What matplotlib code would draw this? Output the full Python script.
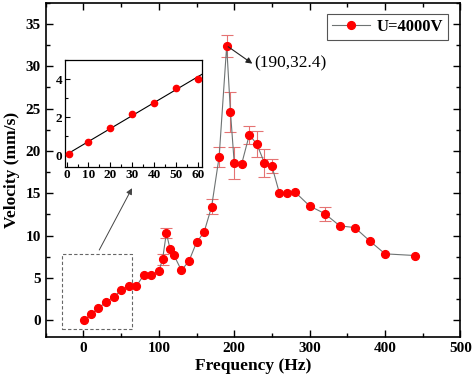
import numpy as np
import matplotlib
matplotlib.use('Agg')
import matplotlib.pyplot as plt
from matplotlib.patches import Rectangle
from matplotlib.ticker import MultipleLocator

plt.rcParams['font.family'] = 'Liberation Serif'
plt.rcParams['font.weight'] = 'bold'

### frequency sweep data, U = 4000 V
freq = [1, 10, 20, 30, 40, 50, 60, 70, 80, 90, 100, 105, 110, 115, 120, 130, 140, 150, 160, 170,
        180, 190, 195, 200, 210, 220, 230, 240, 250, 260, 270, 280, 300, 320, 340, 360, 380, 400, 440]
vel = [0.05, 0.7, 1.45, 2.15, 2.75, 3.55, 4.0, 4.0, 5.35, 5.3, 5.8, 7.2, 10.3, 8.4, 7.7, 5.9, 7.0, 9.2, 10.4, 13.4,
       19.3, 32.4, 24.6, 18.6, 18.5, 21.9, 20.8, 18.6, 18.2, 15.0, 15.0, 15.2, 13.5, 12.6, 11.15, 10.95, 9.35, 7.85, 7.65]
err = [0, 0, 0, 0, 0, 0, 0, 0, 0, 0, 0, 0.67, 0.63, 0, 0, 0, 0, 0, 0, 0.87,
       1.15, 1.3, 2.4, 1.9, 0, 1.05, 1.55, 1.65, 0.85, 0, 0, 0, 0, 0.83, 0, 0, 0, 0, 0]

### low-frequency part shown in the inset
n_low = 7
f_low = np.array(freq[:n_low])
v_low = np.array(vel[:n_low])

fig = plt.figure(figsize=(4.74, 3.78), dpi=100)
ax = fig.add_axes([0.0964, 0.1077, 0.875, 0.8853])

### only draw error bars that are visible outside the markers
fa, va, ea = np.array(freq), np.array(vel), np.array(err)
has_err = ea > 0
ax.errorbar(fa[has_err], va[has_err], yerr=ea[has_err], fmt='none', ecolor='#e57373', elinewidth=0.8,
            capsize=4, capthick=0.8, zorder=2)
ax.plot(freq, vel, '-', color='#6e7373', lw=0.8, marker='o', ms=5.6, mfc='#ff0000', mec='#ff0000',
        label='U=4000V', zorder=3)

ax.set_xlim(-50, 500)
ax.set_ylim(-2, 37.5)
ax.xaxis.set_major_locator(MultipleLocator(100))
ax.xaxis.set_minor_locator(MultipleLocator(50))
ax.yaxis.set_major_locator(MultipleLocator(5))
ax.yaxis.set_minor_locator(MultipleLocator(2.5))
ax.tick_params(which='both', direction='in', top=True, right=True, labelsize=11, width=1.0)
ax.tick_params(which='major', length=5)
ax.tick_params(which='minor', length=3)
for s in ax.spines.values():
    s.set_linewidth(1.2)
ax.set_xlabel('Frequency (Hz)', fontsize=12.5, fontweight='bold', labelpad=2)
ax.set_ylabel('Velocity (mm/s)', fontsize=12.5, fontweight='bold', labelpad=4)

leg = ax.legend(loc='upper right', bbox_to_anchor=(0.97, 0.966), borderaxespad=0, fancybox=False,
                edgecolor='#555555', framealpha=1, prop={'size': 12, 'weight': 'bold'},
                handlelength=2.3, handletextpad=0.4, borderpad=0.3)
leg.get_frame().set_linewidth(0.8)

### peak annotation
i_pk = int(np.argmax(vel))
ax.annotate('', xy=(224, 30.3), xytext=(freq[i_pk] + 2, vel[i_pk] - 0.1),
            arrowprops=dict(arrowstyle='-|>', color='#222222', lw=0.8, mutation_scale=9,
                            shrinkA=0, shrinkB=0))
ax.text(227, 30.3, '(%d,%.1f)' % (freq[i_pk], vel[i_pk]), fontsize=12.5, fontweight='normal',
        va='center', ha='left')

### dashed box around the low-frequency points and arrow to inset
ax.add_patch(Rectangle((-28, -1), 93, 8.8, fill=False, ls=(0, (3, 2)), lw=0.8, ec='#666666'))
ax.annotate('', xy=(64.5, 15.6), xytext=(21, 8.3),
            arrowprops=dict(arrowstyle='-|>', color='#444444', lw=0.7, mutation_scale=9,
                            shrinkA=0, shrinkB=0))

### inset
axi = fig.add_axes([65.3 / 474, 1 - 166.7 / 378, (202.3 - 65.3) / 474, (166.7 - 60) / 378])
k, b = np.polyfit(f_low, v_low, 1)
xf = np.array([0, 62])
axi.plot(xf, k * xf + b, '-', color='black', lw=0.8, zorder=2)
axi.plot(f_low, v_low, 'o', ms=4.5, mfc='#ff0000', mec='#ff0000', zorder=3)
axi.set_xlim(-0.6, 62)
axi.set_ylim(-0.6, 5.0)
axi.xaxis.set_major_locator(MultipleLocator(10))
axi.xaxis.set_minor_locator(MultipleLocator(5))
axi.yaxis.set_major_locator(MultipleLocator(2))
axi.yaxis.set_minor_locator(MultipleLocator(1))
axi.tick_params(which='both', direction='in', labelsize=9.5, width=0.8, pad=2)
axi.tick_params(which='major', length=3.5)
axi.tick_params(which='minor', length=2)
for s in axi.spines.values():
    s.set_linewidth(0.9)

fig.savefig('out.png', dpi=100)
